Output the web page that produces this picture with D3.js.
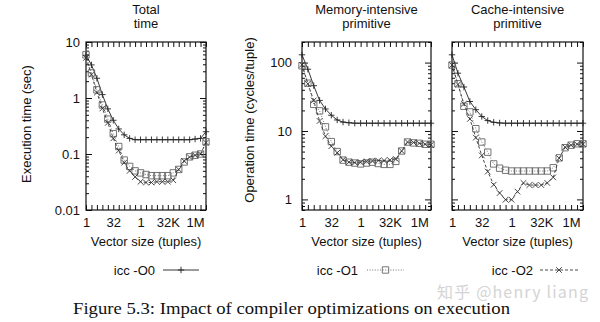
<!DOCTYPE html>
<html>
<head>
<meta charset="utf-8">
<script src="https://cdnjs.cloudflare.com/ajax/libs/d3/7.8.5/d3.min.js"></script>
<style>
body { margin: 0; background: #fff; }
svg { display: block; font-family: "Liberation Sans", Arial, sans-serif; }
</style>
</head>
<body>
<script>
// vector sizes in tuples, one measurement per power of two
var vectorSizes = [1, 2, 4, 8, 16, 32, 64, 128, 256, 512, 1024, 2048, 4096, 8192,
    16384, 32768, 65536, 131072, 262144, 524288, 1048576, 2097152, 4194304];
var sizeTicks = [1, 32, 1024, 32768, 1048576];
var sizeTickLabels = ['1', '32', '1', '32K', '1M'];
var compilerFlags = ['icc -O0', 'icc -O1', 'icc -O2'];

// total execution time (sec)
var totalO0 = [5.8, 3.9, 2.25, 1.15, 0.64, 0.40, 0.28, 0.22, 0.19, 0.18, 0.18, 0.18,
    0.18, 0.18, 0.18, 0.18, 0.18, 0.18, 0.18, 0.18, 0.185, 0.19, 0.25];
var totalO1 = [5.9, 2.8, 1.4, 0.75, 0.42, 0.23, 0.136, 0.078, 0.060, 0.050, 0.046, 0.043,
    0.041, 0.041, 0.041, 0.041, 0.046, 0.053, 0.072, 0.089, 0.095, 0.10, 0.165];
var totalO2 = [5.2, 2.6, 1.25, 0.65, 0.36, 0.19, 0.115, 0.07, 0.05, 0.039, 0.032, 0.031,
    0.031, 0.032, 0.032, 0.032, 0.034, 0.053, 0.075, 0.088, 0.095, 0.10, 0.16];

// memory-intensive primitive (cycles/tuple)
var memO0 = [130, 80, 46, 28, 21, 17, 14.5, 13.5, 13.2, 13, 13, 13,
    13, 13, 13, 13, 13, 13, 13, 13, 13, 13, 13];
var memO1 = [90, 50, 24.5, 19.7, 11.5, 7.0, 5.0, 3.75, 3.5, 3.4, 3.3, 3.4,
    3.5, 3.35, 3.25, 3.25, 3.6, 5.1, 6.9, 6.7, 6.6, 6.4, 6.4];
var memO2 = [93, 49, 28, 14, 8.4, 6.0, 4.8, 3.8, 3.5, 3.45, 3.5, 3.6,
    3.65, 3.7, 3.7, 3.75, 3.9, 5.1, 6.9, 6.8, 6.6, 6.4, 6.3];

// cache-intensive primitive (cycles/tuple)
var cacheO0 = [130, 70, 44, 27, 20.5, 16.3, 14.2, 13.4, 13.1, 13, 13, 13,
    13, 13, 13, 13, 13, 13, 13, 13, 13, 13, 13];
var cacheO1 = [92, 49, 23, 19, 10.8, 6.9, 4.9, 3.3, 2.86, 2.67, 2.6, 2.6,
    2.6, 2.6, 2.6, 2.6, 2.6, 2.9, 4.05, 5.7, 6.2, 6.5, 6.5];
var cacheO2 = [92, 48, 25, 15, 8, 4.4, 2.55, 1.64, 1.24, 0.99, 0.99, 1.3,
    1.74, 1.62, 1.62, 1.62, 1.74, 2.1, 4.0, 5.8, 6.2, 6.4, 6.4];

var width = 600;
var height = 322;
var plotTop = 42;
var plotBottom = 210;

var styles = [
    {stroke: '#222', dash: null, marker: 'plus'},
    {stroke: '#666', dash: '1,1.6', marker: 'square'},
    {stroke: '#333', dash: '3,2', marker: 'cross'}
];

var panels = [
    {title: ['Total', 'time'], left: 86, right: 206, yDomain: [0.01, 10],
        yLabel: 'Execution time (sec)', yLabelX: 31, yLabelY: 124, showY: true,
        series: [totalO0, totalO1, totalO2], legendEnd: 155, legendX1: 163, legendX2: 199},
    {title: ['Memory-intensive', 'primitive'], left: 302, right: 431, yDomain: [0.7, 200],
        yLabel: 'Operation time (cycles/tuple)', yLabelX: 254, yLabelY: 120, showY: true,
        series: [memO0, memO1, memO2], legendEnd: 358, legendX1: 367, legendX2: 404},
    {title: ['Cache-intensive', 'primitive'], left: 452, right: 583, yDomain: [0.7, 200],
        yLabel: null, showY: false,
        series: [cacheO0, cacheO1, cacheO2], legendEnd: 533, legendX1: 540, legendX2: 578}
];

var svg = d3.select('body').append('svg')
    .attr('width', width)
    .attr('height', height);

function markerPath(type) {
    if (type === 'plus') {
        return 'M-3.2,0H3.2M0,-3.2V3.2';
    }
    if (type === 'cross') {
        return 'M-2.8,-2.8L2.8,2.8M-2.8,2.8L2.8,-2.8';
    }
    return 'M-3.2,-3.2H3.2V3.2H-3.2Z';
}

function styleAxis(g) {
    g.select('.domain').remove();
    g.selectAll('.tick line').attr('stroke', '#111');
    g.attr('font-family', '"Liberation Sans", Arial, sans-serif')
        .attr('font-size', 13);
    g.selectAll('.tick text').attr('fill', '#111');
}

function isDecade(v) {
    var l = Math.log10(v);
    return Math.abs(l - Math.round(l)) < 1e-9;
}

panels.forEach(function(p) {
    var x = d3.scaleLog().base(2)
        .domain([vectorSizes[0], vectorSizes[vectorSizes.length - 1]])
        .range([p.left, p.right]);
    var y = d3.scaleLog()
        .domain(p.yDomain)
        .range([plotBottom, plotTop]);

    var yMajor = y.ticks().filter(isDecade);
    var yMinor = y.ticks().filter(function(v) { return !isDecade(v); });

    // y ticks, mirrored on both sides, pointing inward
    svg.append('g')
        .attr('transform', 'translate(' + p.left + ',0)')
        .call(d3.axisLeft(y).tickValues(yMajor).tickSizeInner(-6).tickSizeOuter(0)
            .tickPadding(p.showY ? (p.left === 86 ? 6 : 10) : 6)
            .tickFormat(function(d) { return p.showY ? d3.format('~g')(d) : ''; }))
        .call(styleAxis);
    svg.append('g')
        .attr('transform', 'translate(' + p.left + ',0)')
        .call(d3.axisLeft(y).tickValues(yMinor).tickSizeInner(-3).tickSizeOuter(0).tickFormat(''))
        .call(styleAxis);
    svg.append('g')
        .attr('transform', 'translate(' + p.right + ',0)')
        .call(d3.axisRight(y).tickValues(yMajor).tickSizeInner(-6).tickSizeOuter(0).tickFormat(''))
        .call(styleAxis);
    svg.append('g')
        .attr('transform', 'translate(' + p.right + ',0)')
        .call(d3.axisRight(y).tickValues(yMinor).tickSizeInner(-3).tickSizeOuter(0).tickFormat(''))
        .call(styleAxis);

    // x ticks at every power of two, labels on a few of them
    svg.append('g')
        .attr('transform', 'translate(0,' + plotBottom + ')')
        .call(d3.axisBottom(x).tickValues(vectorSizes).tickSizeInner(-5).tickSizeOuter(0)
            .tickPadding(8)
            .tickFormat(function(d) {
                var k = sizeTicks.indexOf(d);
                return k < 0 ? '' : sizeTickLabels[k];
            }))
        .call(styleAxis);
    svg.append('g')
        .attr('transform', 'translate(0,' + plotTop + ')')
        .call(d3.axisTop(x).tickValues(vectorSizes).tickSizeInner(-5).tickSizeOuter(0).tickFormat(''))
        .call(styleAxis);

    svg.append('rect')
        .attr('x', p.left)
        .attr('y', plotTop)
        .attr('width', p.right - p.left)
        .attr('height', plotBottom - plotTop)
        .attr('fill', 'none')
        .attr('stroke', '#111')
        .attr('stroke-width', 1.2);

    var line = d3.line()
        .x(function(d, i) { return x(vectorSizes[i]); })
        .y(function(d) { return y(d); });

    p.series.forEach(function(values, s) {
        var st = styles[s];
        svg.append('path')
            .attr('d', line(values))
            .attr('fill', 'none')
            .attr('stroke', st.stroke)
            .attr('stroke-width', 0.9)
            .attr('stroke-dasharray', st.dash);

        svg.append('g').selectAll('path')
            .data(values)
            .enter().append('path')
                .attr('transform', function(d, i) {
                    return 'translate(' + x(vectorSizes[i]) + ',' + y(d) + ')';
                })
                .attr('d', markerPath(st.marker))
                .attr('fill', 'none')
                .attr('stroke', st.stroke)
                .attr('stroke-width', 0.9);
    });

    var cx = (p.left + p.right) / 2;
    svg.append('text')
        .attr('x', cx).attr('y', 13.5)
        .attr('text-anchor', 'middle')
        .attr('font-size', 13)
        .attr('fill', '#111')
        .text(p.title[0]);
    svg.append('text')
        .attr('x', cx).attr('y', 27.5)
        .attr('text-anchor', 'middle')
        .attr('font-size', 13)
        .attr('fill', '#111')
        .text(p.title[1]);

    svg.append('text')
        .attr('x', cx).attr('y', 246)
        .attr('text-anchor', 'middle')
        .attr('font-size', 13)
        .attr('fill', '#111')
        .text('Vector size (tuples)');

    if (p.yLabel) {
        svg.append('text')
            .attr('transform', 'translate(' + p.yLabelX + ',' + p.yLabelY + ') rotate(-90)')
            .attr('text-anchor', 'middle')
            .attr('font-size', 13)
            .attr('fill', '#111')
            .text(p.yLabel);
    }
});

// one legend entry under each panel
panels.forEach(function(p, s) {
    var st = styles[s];
    var ly = 270;
    svg.append('text')
        .attr('x', p.legendEnd).attr('y', ly + 4.5)
        .attr('text-anchor', 'end')
        .attr('font-size', 13)
        .attr('fill', '#111')
        .text(compilerFlags[s]);
    svg.append('line')
        .attr('x1', p.legendX1).attr('x2', p.legendX2)
        .attr('y1', ly).attr('y2', ly)
        .attr('stroke', st.stroke)
        .attr('stroke-width', 0.9)
        .attr('stroke-dasharray', st.dash);
    svg.append('path')
        .attr('transform', 'translate(' + ((p.legendX1 + p.legendX2) / 2) + ',' + ly + ')')
        .attr('d', markerPath(st.marker))
        .attr('fill', 'none')
        .attr('stroke', st.stroke)
        .attr('stroke-width', 0.9);
});

svg.append('text')
    .attr('x', 437).attr('y', 298)
    .attr('font-family', '"Noto Sans CJK SC", sans-serif')
    .attr('font-size', 16)
    .attr('fill', '#d4d4d4')
    .attr('textLength', 151)
    .text('知乎 @henry liang');

svg.append('text')
    .attr('x', 73).attr('y', 314)
    .attr('font-family', '"Liberation Serif", "DejaVu Serif", serif')
    .attr('font-size', 17)
    .attr('fill', '#111')
    .attr('textLength', 437)
    .attr('lengthAdjust', 'spacingAndGlyphs')
    .text('Figure 5.3: Impact of compiler optimizations on execution');
</script>
</body>
</html>
